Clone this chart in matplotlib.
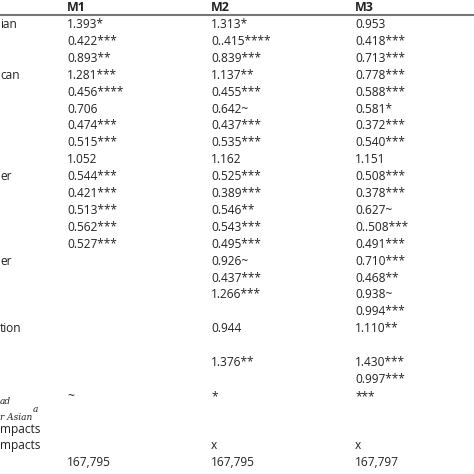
import matplotlib
matplotlib.use("Agg")
import matplotlib.pyplot as plt

labels = ["ian", "", "", "can", "", "", "", "", "", "er", "", "", "", "", "er", "", "", "", "tion", "", "", "", "", "", "mpacts", "mpacts", ""]
m1 = ["1.393*", "0.422***", "0.893**", "1.281***", "0.456****", "0.706", "0.474***", "0.515***", "1.052", "0.544***", "0.421***", "0.513***", "0.562***", "0.527***", "", "", "", "", "", "", "", "", "~", "", "", "", "167,795"]
m2 = ["1.313*", "0..415****", "0.839***", "1.137**", "0.455***", "0.642~", "0.437***", "0.535***", "1.162", "0.525***", "0.389***", "0.546**", "0.543***", "0.495***", "0.926~", "0.437***", "1.266***", "", "0.944", "", "1.376**", "", "*", "", "", "x", "167,795"]
m3 = ["0.953", "0.418***", "0.713***", "0.778***", "0.588***", "0.581*", "0.372***", "0.540***", "1.151", "0.508***", "0.378***", "0.627~", "0..508***", "0.491***", "0.710***", "0.468**", "0.938~", "0.994***", "1.110**", "", "1.430***", "0.997***", "***", "", "", "x", "167,797"]
headers = ["M1", "M2", "M3"]

fig = plt.figure(figsize=(4.74, 4.74), dpi=100)
ax = fig.add_axes([0, 0, 1, 1])
ax.set_xlim(0, 474)
ax.set_ylim(474, 0)
ax.axis("off")
fam = ["Open Sans", "DejaVu Sans"]
fs = 8.6
xs = [67, 211, 355]
for h, x in zip(headers, xs):
    ax.text(x, 7, h, fontsize=fs + 0.4, fontweight="bold", family=fam, va="center", ha="left", color="#222")
ax.plot([0, 474], [15, 15], color="#777", lw=1.5)
y0, dy = 24.5, 16.9
for i, (lab, a, b, c) in enumerate(zip(labels, m1, m2, m3)):
    y = y0 + i * dy
    if i >= 24:
        y = y0 + i * dy - 1
    ax.text(0, y, lab, fontsize=fs, family=fam, va="center", color="#222")
    for x, v in zip(xs, (a, b, c)):
        ax.text(x, y, v, fontsize=fs, family=fam, va="center", color="#222")
ax.text(0, 402, "ad", fontsize=6.5, family="DejaVu Serif", style="italic", va="center", color="#222")
ax.text(0, 417, "r Asian", fontsize=6.5, family="DejaVu Serif", style="italic", va="center", color="#222")
ax.text(33, 410, "a", fontsize=6.5, family="DejaVu Serif", style="italic", va="center", color="#222")
fig.savefig("out.png", dpi=100, facecolor="white")
